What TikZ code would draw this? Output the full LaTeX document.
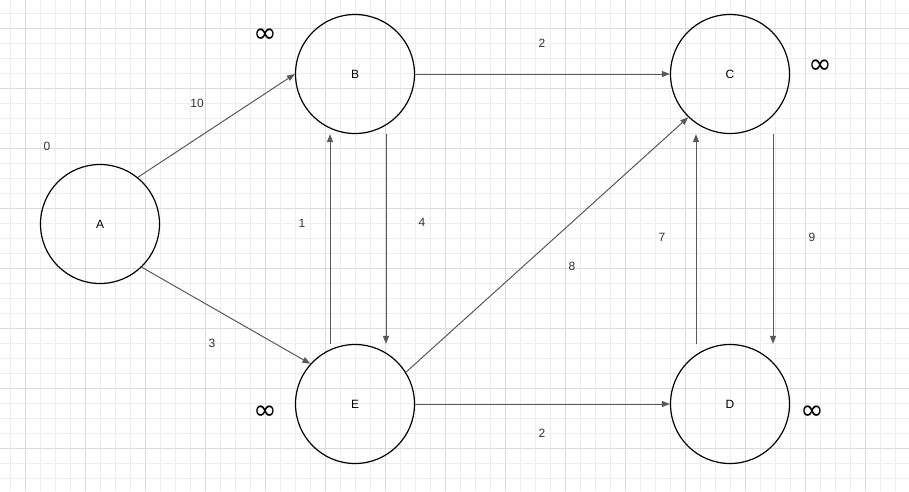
\documentclass[tikz,border=0pt]{standalone}
\usepackage{fontspec}
\setmainfont{Liberation Sans}
\newfontfamily\dejavu{DejaVu Sans}
\usetikzlibrary{arrows.meta}
\begin{document}
\begin{tikzpicture}[x=1pt,y=-1pt,
  vert/.style={circle,draw=black,line width=1.2pt,minimum size=119pt,inner sep=0pt,font=\fontsize{12}{14}\selectfont},
  edge/.style={draw=black!65,line width=1pt,-{Triangle[length=8pt,width=6pt]}},
  wt/.style={font=\fontsize{12}{14}\selectfont,text=black!80},
  inf/.style={font=\dejavu\fontsize{28}{30}\selectfont}]
\fill[white] (0,0) rectangle (909,491);
\useasboundingbox (0,0) rectangle (909,491);
\foreach \i in {0,...,61} {\draw[black!7,line width=0.6pt] ({10+15*\i},0) -- ({10+15*\i},491);}
\foreach \i in {0,...,33} {\draw[black!7,line width=0.6pt] (0,{-2+15*\i}) -- (909,{-2+15*\i});}
\foreach \i in {0,...,15} {\draw[black!14,line width=0.8pt] ({25+60*\i},0) -- ({25+60*\i},491);}
\foreach \i in {0,...,8} {\draw[black!14,line width=0.8pt] (0,{28+60*\i}) -- (909,{28+60*\i});}
\node[vert] (A) at (100,224) {A};
\node[vert] (B) at (355,74) {B};
\node[vert] (C) at (730,74) {C};
\node[vert] (E) at (355,404) {E};
\node[vert] (D) at (730,404) {D};
\draw[edge] (A.51) -- (B.180);
\draw[edge] (A.-46) -- (E.138);
\draw[edge] (B) -- (C);
\draw[edge] (E) -- (D);
\draw[edge] (E.32) -- (C.226);
\draw[edge] (E.north -| 330,0) -- (B.south -| 330,0);
\draw[edge] (B.south -| 386,0) -- (E.north -| 386,0);
\draw[edge] (D.north -| 696,0) -- (C.south -| 696,0);
\draw[edge] (C.south -| 773,0) -- (D.north -| 773,0);
\node[wt] (w1) at (197,103) {10};
\node[wt] (w2) at (212,343) {3};
\node[wt] (w3) at (542,43) {2};
\node[wt] (w4) at (542,433) {2};
\node[wt] (w5) at (302,223) {1};
\node[wt] (w6) at (422,222) {4};
\node[wt] (w7) at (572,266) {8};
\node[wt] (w8) at (662,237) {7};
\node[wt] (w9) at (812,237) {9};
\node[wt] (w0) at (47,146) {0};
\node[inf] (iB) at (265,36) {∞};
\node[inf] (iC) at (820,67) {∞};
\node[inf] (iE) at (265,413) {∞};
\node[inf] (iD) at (812,413) {∞};
\end{tikzpicture}
\end{document}
